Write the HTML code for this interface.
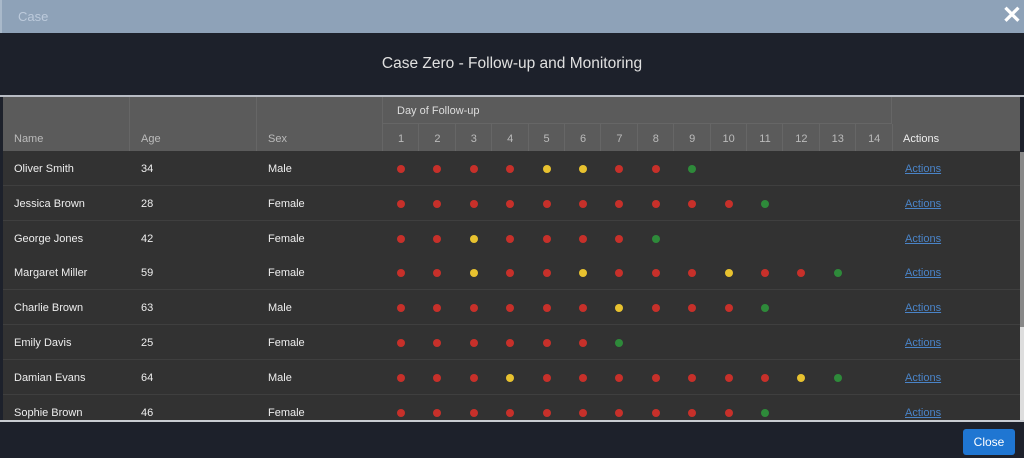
<!DOCTYPE html>
<html><head><style>
*{margin:0;padding:0;box-sizing:border-box}
body{width:1024px;height:458px;background:#1d212b;font-family:"Liberation Sans",Arial,sans-serif;position:relative;overflow:hidden}
.top{position:absolute;left:0;top:0;width:1024px;height:33px;background:#8ea2b8;border-left:2px solid #a9b9ca}
.top span{position:absolute;left:16px;top:9px;color:#bccadb;font-size:13px}
.x{position:absolute;right:2px;top:3px;color:#fff;font-size:24px;font-weight:bold;line-height:26px}
.title{position:absolute;left:0;width:1024px;top:55px;text-align:center;color:#e0e0e0;font-size:15.5px}
.sep{position:absolute;left:0;top:95px;width:1024px;height:2px;background:#b8bcc4}
.tbl{position:absolute;left:3px;top:97px;width:1017px;height:323px;background:#333;overflow:hidden}
.hd{position:absolute;top:0;height:54px;background:#5b5b5b;border-right:1px solid #666;color:#bbb;font-size:11px}
.hd span{position:absolute;left:11px;top:36px}
.row{position:absolute;left:0;width:1017px;height:35px;border-bottom:1px solid #3f3f3f;background:#323232;color:#eee;font-size:11px}
.row span{position:absolute;top:12px}
.d{position:absolute;width:8px;height:8px;border-radius:50%;top:14px}
.R{background:#c7302a}.Y{background:#e8c22f}.G{background:#2e8a3a}
.a{color:#4a84c8;text-decoration:underline}
.sb{position:absolute;left:1020px;top:152px;width:4px;height:268px;background:#ddd}
.sb2{position:absolute;left:1020px;top:152px;width:4px;height:175px;background:#888}
.bsep{position:absolute;left:0;top:420px;width:1024px;height:2px;background:#c8ccd2}
.close{position:absolute;left:963px;top:429px;width:52px;height:26px;background:#1f76d2;border-radius:3px;color:#fff;font-size:12px;text-align:center;line-height:26px}
</style></head><body>
<div class="top"><span>Case</span><div class="x">✕</div></div>
<div class="title">Case Zero - Follow-up and Monitoring</div>
<div class="sep"></div>
<div class="tbl" id="t">
<div class="hd" style="left:0;width:127px"><span>Name</span></div>
<div class="hd" style="left:127px;width:127px"><span>Age</span></div>
<div class="hd" style="left:254px;width:126px"><span>Sex</span></div>
<div class="hd" style="left:380px;width:509px;height:27px;border-bottom:1px solid #666"><span style="top:8px;left:14px;color:#ddd">Day of Follow-up</span></div>
<div class="hd" style="left:889px;width:128px;border-right:none"><span style="color:#eee">Actions</span></div>
</div>
<div class="sb"></div><div class="sb2"></div>
<div class="bsep"></div>
<div class="close">Close</div>
<script>
var t=document.getElementById('t'),h='';
for(var i=0;i<14;i++){var l=380+i*36.4;h+='<div class="hd" style="left:'+l+'px;width:36.4px;top:27px;height:27px"><span style="top:9px;left:0;width:36px;text-align:center">'+(i+1)+'</span></div>';}
var rows=[["Oliver Smith",34,"Male","RRRRYYRRG"],["Jessica Brown",28,"Female","RRRRRRRRRRG"],["George Jones",42,"Female","RRYRRRRG"],["Margaret Miller",59,"Female","RRYRRYRRRYRRG"],["Charlie Brown",63,"Male","RRRRRRYRRRG"],["Emily Davis",25,"Female","RRRRRRG"],["Damian Evans",64,"Male","RRRYRRRRRRRYG"],["Sophie Brown",46,"Female","RRRRRRRRRRG"]];
rows.forEach(function(r,k){h+='<div class="row" style="top:'+Math.round(54+k*34.8)+'px"><span style="left:11px">'+r[0]+'</span><span style="left:138px">'+r[1]+'</span><span style="left:265px">'+r[2]+'</span>';
for(var j=0;j<r[3].length;j++)h+='<div class="d '+r[3][j]+'" style="left:'+(394+j*36.4)+'px"></div>';
h+='<span class="a" style="left:902px">Actions</span></div>';});
t.innerHTML+=h;
</script>
</body></html>
